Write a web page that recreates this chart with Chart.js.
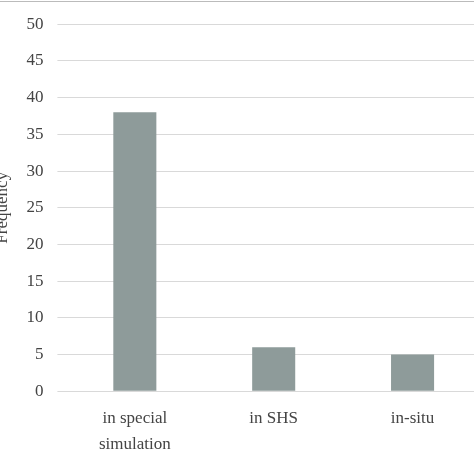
<!DOCTYPE html>
<html><head><meta charset="utf-8">
<script src="https://cdn.jsdelivr.net/npm/chart.js@4/dist/chart.umd.min.js"></script>
<style>
html,body{margin:0;padding:0;overflow:hidden;background:#fff;width:474px;height:474px;}
#line{position:absolute;left:0;top:1px;width:474px;height:1px;background:#bbb;}
#wrap{position:absolute;left:-8px;top:0;width:490px;height:474px;}
</style></head><body>
<div id="line"></div>
<div id="wrap"><canvas id="c"></canvas></div>
<script>
const categories=[["in special","simulation"],"in SHS","in-situ"];
const values=[38,6,5];
const yTicks=[0,5,10,15,20,25,30,35,40,45,50];
new Chart(document.getElementById('c'),{
type:'bar',
data:{labels:categories,datasets:[{data:values,backgroundColor:'#8e9b9a',barPercentage:0.31,categoryPercentage:1}]},
options:{responsive:true,maintainAspectRatio:false,animation:false,
layout:{padding:{top:10,bottom:10,left:0,right:0}},
plugins:{legend:{display:false},tooltip:{enabled:false}},
scales:{
x:{grid:{display:false},border:{color:'#d9d9d9'},ticks:{color:'#444',font:{family:'Liberation Serif',size:17,lineHeight:1.55},padding:6,maxRotation:0}},
y:{min:0,max:50,afterBuildTicks:a=>{a.ticks=yTicks.map(v=>({value:v}));},
grid:{color:'#d9d9d9'},border:{display:false},
ticks:{color:'#444',font:{family:'Liberation Serif',size:17},padding:14},
title:{display:true,text:'Frequency',color:'#444',font:{family:'Liberation Serif',size:17},padding:0}}
}}});
</script></body></html>
